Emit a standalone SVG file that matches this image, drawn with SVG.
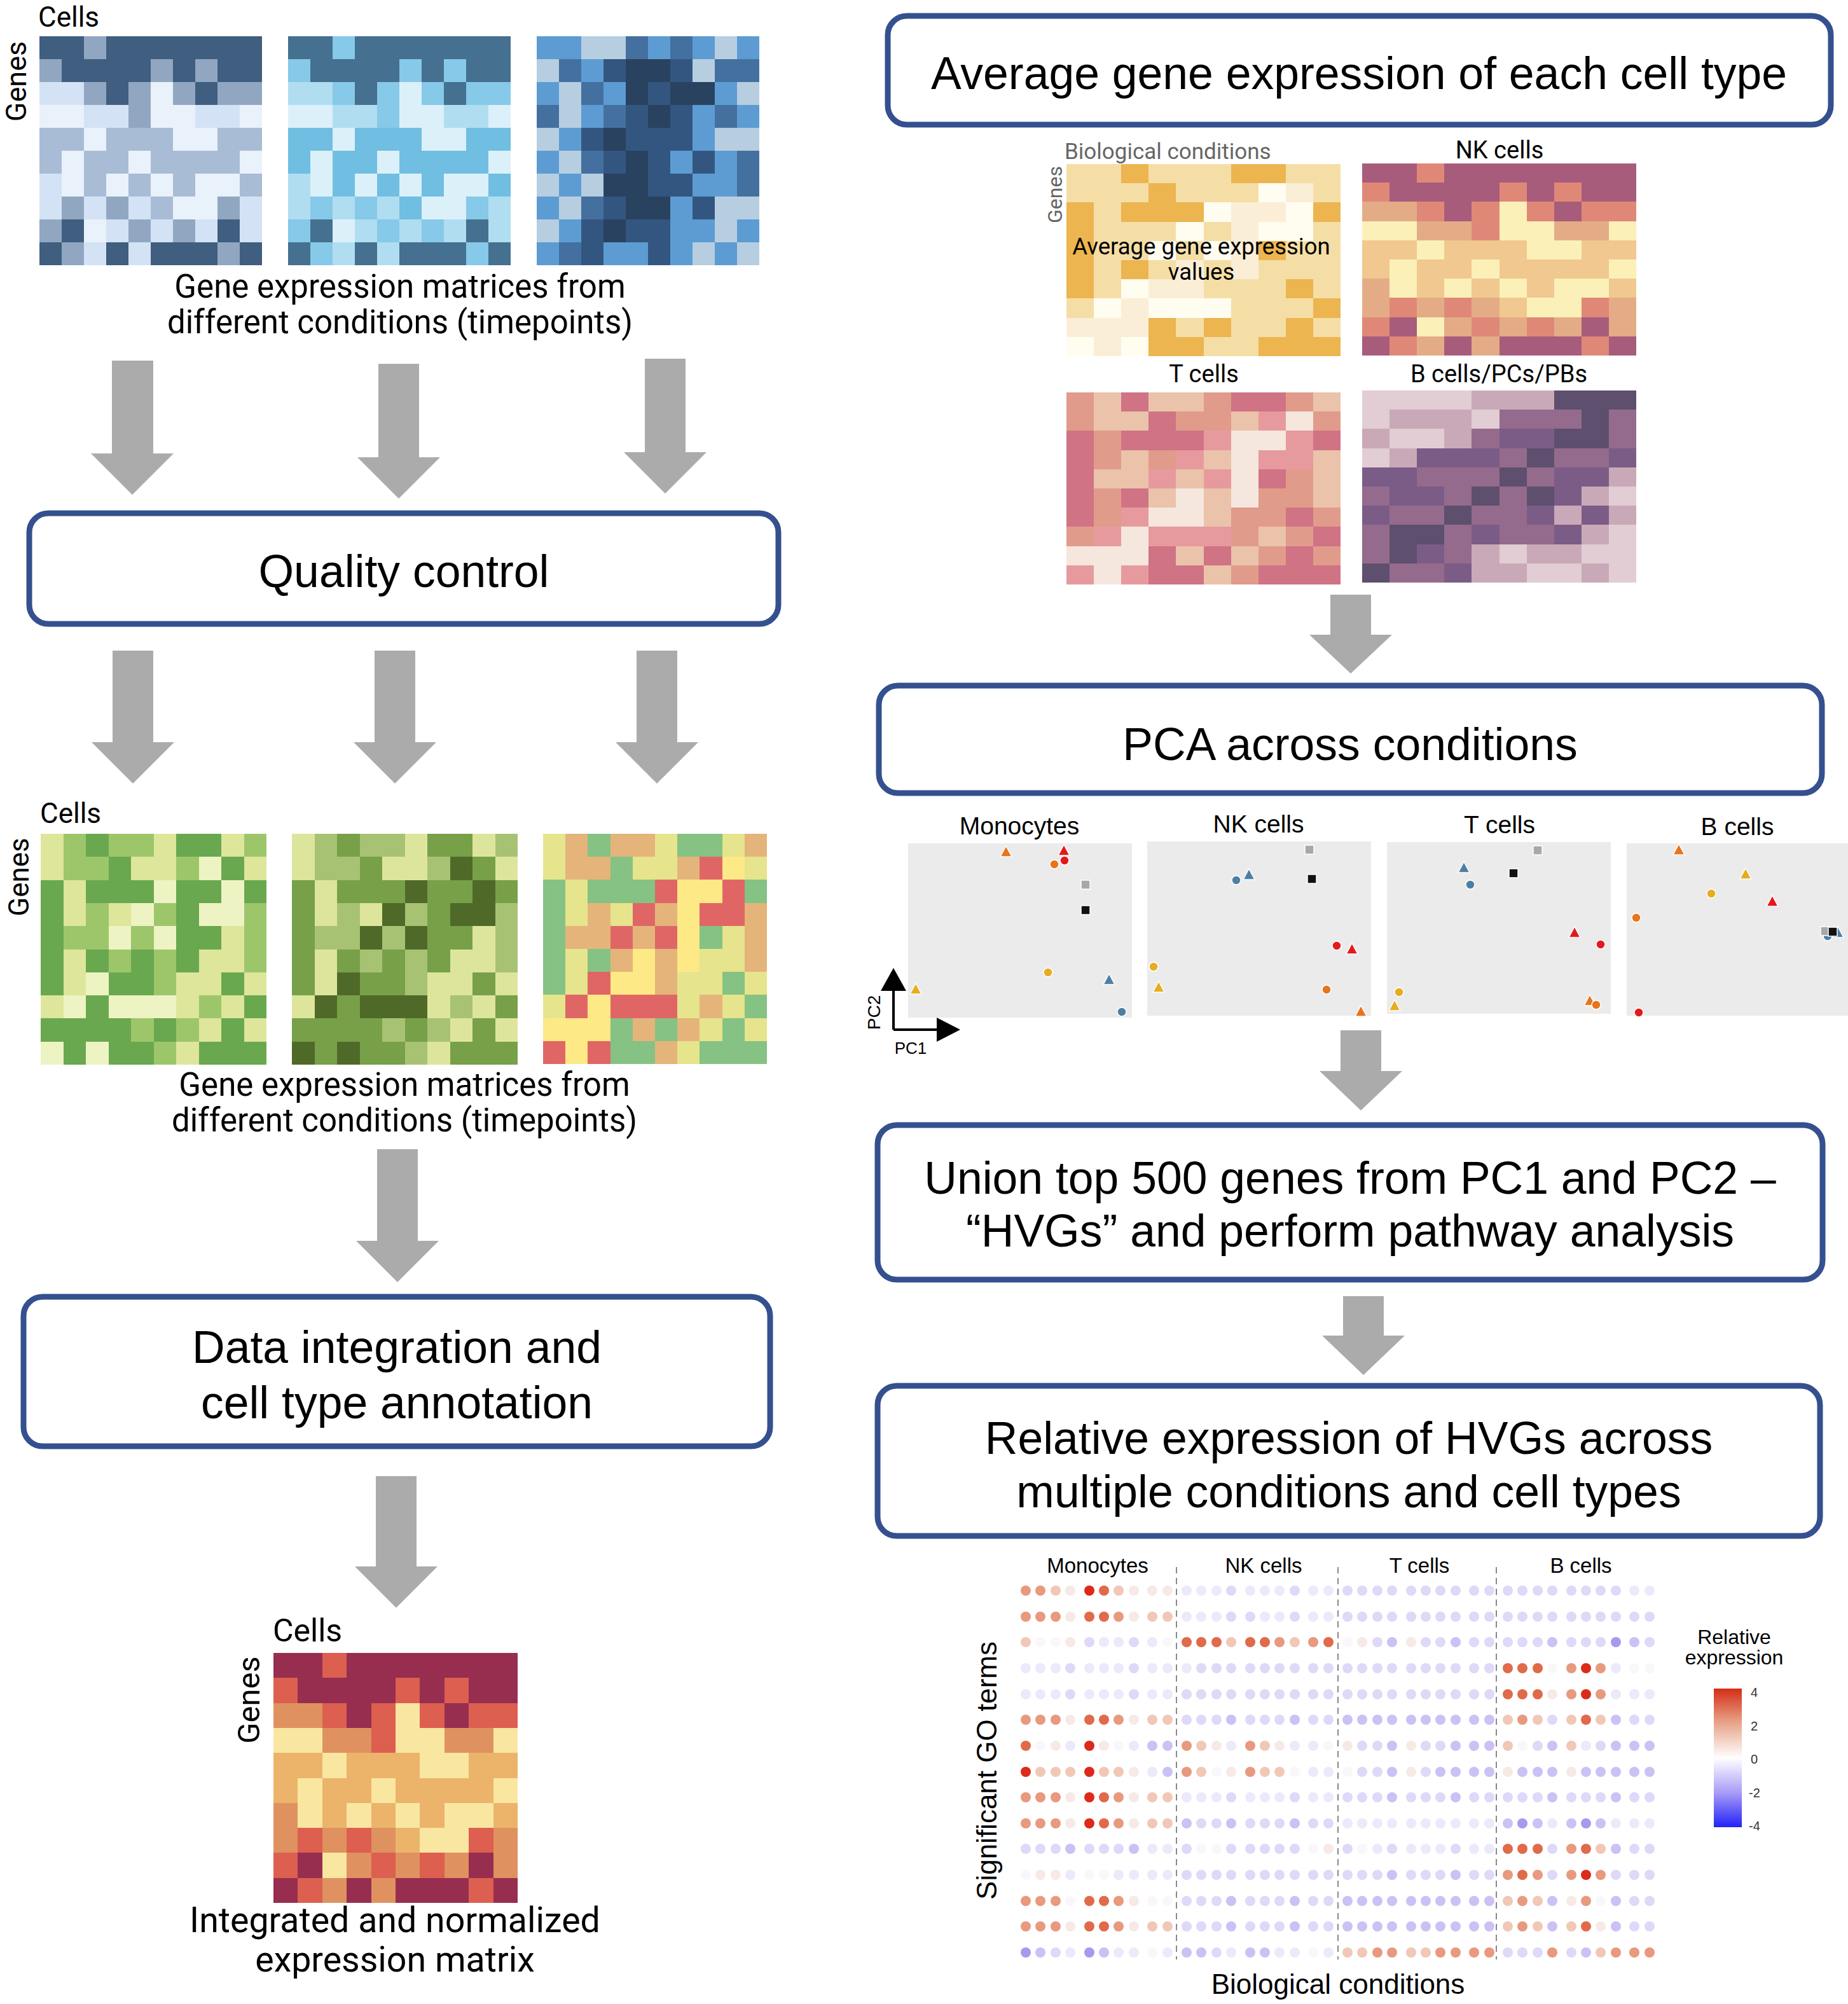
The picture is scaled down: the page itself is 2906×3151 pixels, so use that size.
<svg xmlns="http://www.w3.org/2000/svg" width="2906" height="3151" viewBox="0 0 2906 3151">
<style>
.t{font-family:"Liberation Sans",Arial,sans-serif;fill:#000}
.r{font-family:Roboto,"Liberation Sans",sans-serif;fill:#000}
.m{text-anchor:middle}
.box{fill:#fff;stroke:#34508e;stroke-width:9}
.bt{font-size:71.5px}
.arr{fill:#ababab}
.pn{fill:#ebebeb}
.hm{shape-rendering:crispEdges}
.dash{stroke:#8a8a8a;stroke-width:2;stroke-dasharray:10 7;fill:none}
</style>
<defs>
<path id="P2" d="M2 0h1v1h-1zM0 1h1v1h-1zM5 1h1v1h-1zM7 1h1v1h-1zM2 2h1v1h-1zM4 2h1v1h-1zM6 2h1v1h-1zM8 2h2v1h-2zM4 3h1v1h-1zM1 7h1v1h-1zM3 7h1v1h-1zM8 7h1v1h-1zM0 8h1v1h-1zM4 8h1v1h-1zM6 8h1v1h-1zM1 9h1v1h-1zM8 9h1v1h-1z"/>
<path id="P3" d="M0 2h2v1h-2zM2 3h2v1h-2zM7 3h2v1h-2zM0 6h1v1h-1zM0 7h1v1h-1zM2 7h1v1h-1zM4 7h1v1h-1zM9 7h1v1h-1zM3 8h1v1h-1zM5 8h1v1h-1zM7 8h1v1h-1zM9 8h1v1h-1zM2 9h1v1h-1zM4 9h1v1h-1z"/>
<path id="P4" d="M0 4h2v1h-2zM3 4h3v1h-3zM8 4h2v1h-2zM0 5h1v1h-1zM2 5h2v1h-2zM5 5h4v1h-4zM2 6h1v1h-1zM4 6h1v1h-1zM6 6h1v1h-1zM9 6h1v1h-1zM5 7h1v1h-1z"/>
<path id="P5" d="M5 2h1v1h-1zM0 3h2v1h-2zM5 3h2v1h-2zM9 3h1v1h-1zM2 4h1v1h-1zM6 4h2v1h-2zM1 5h1v1h-1zM4 5h1v1h-1zM9 5h1v1h-1zM1 6h1v1h-1zM3 6h1v1h-1zM5 6h1v1h-1zM7 6h2v1h-2zM6 7h2v1h-2zM2 8h1v1h-1z"/>
<path id="QB" d="M1 0h1v1h-1zM3 0h2v1h-2zM9 0h1v1h-1zM1 1h2v1h-2zM6 1h1v1h-1zM2 3h1v1h-1zM5 3h1v1h-1zM9 3h1v1h-1zM1 4h2v1h-2zM4 4h1v1h-1zM9 4h1v1h-1zM3 5h1v1h-1zM5 5h1v1h-1zM9 5h1v1h-1zM5 6h1v1h-1zM7 7h1v1h-1zM4 8h1v1h-1zM6 8h1v1h-1zM5 9h1v1h-1z"/>
<path id="QC" d="M0 0h1v1h-1zM5 0h1v1h-1zM8 0h1v1h-1zM0 1h1v1h-1zM4 1h2v1h-2zM9 1h1v1h-1zM1 2h1v1h-1zM1 3h1v1h-1zM3 3h1v1h-1zM8 4h1v1h-1zM1 5h1v1h-1zM7 5h2v1h-2zM1 6h1v1h-1zM6 6h2v1h-2zM9 6h1v1h-1zM0 7h1v1h-1zM6 7h1v1h-1zM8 7h1v1h-1zM7 8h1v1h-1zM9 8h1v1h-1zM6 9h1v1h-1z"/>
<path id="QD" d="M7 1h1v1h-1zM5 2h1v1h-1zM8 2h1v1h-1zM4 3h1v1h-1zM7 3h2v1h-2zM3 4h1v1h-1zM5 4h1v1h-1zM2 6h1v1h-1zM1 7h1v1h-1zM3 7h3v1h-3zM0 9h1v1h-1zM2 9h1v1h-1z"/>
<path id="QE" d="M8 1h1v1h-1zM6 2h2v1h-2zM6 3h1v1h-1zM6 4h1v1h-1zM4 5h1v1h-1zM6 5h1v1h-1zM3 6h2v1h-2zM2 7h1v1h-1zM0 8h3v1h-3zM1 9h1v1h-1z"/>
<path id="BD" d="M7 0h3v1h-3zM8 1h1v1h-1zM7 2h2v1h-2zM6 3h1v1h-1zM5 4h1v1h-1zM4 5h1v1h-1zM6 5h1v1h-1zM3 6h1v1h-1zM1 7h2v1h-2zM1 8h1v1h-1zM0 9h1v1h-1z"/>
<path id="BP" d="M5 2h2v1h-2zM2 3h3v1h-3zM9 3h1v1h-1zM0 4h2v1h-2zM7 4h2v1h-2zM1 5h2v1h-2zM7 5h1v1h-1zM0 6h1v1h-1zM6 6h1v1h-1zM8 6h1v1h-1zM4 7h1v1h-1zM7 7h1v1h-1zM2 8h1v1h-1zM3 9h1v1h-1z"/>
<path id="BL" d="M4 0h3v1h-3zM1 1h3v1h-3zM0 2h1v1h-1zM3 2h1v1h-1zM1 3h1v1h-1zM9 4h1v1h-1zM8 5h1v1h-1zM7 6h1v1h-1zM9 6h1v1h-1zM8 7h1v1h-1zM4 8h1v1h-1zM6 8h2v1h-2zM4 9h2v1h-2zM8 9h1v1h-1z"/>
<path id="BV" d="M0 0h4v1h-4zM0 1h1v1h-1zM4 1h1v1h-1zM1 2h2v1h-2zM0 3h1v1h-1zM9 5h1v1h-1zM9 7h1v1h-1zM5 8h1v1h-1zM8 8h2v1h-2zM6 9h2v1h-2zM9 9h1v1h-1z"/>
<path id="UM" d="M0 0h2v1h-2zM5 0h1v1h-1zM7 0h1v1h-1zM9 0h1v1h-1zM2 1h1v1h-1zM0 2h1v1h-1zM3 2h1v1h-1zM8 2h1v1h-1zM2 3h1v1h-1zM7 3h1v1h-1zM9 3h1v1h-1zM1 4h1v1h-1zM7 4h1v1h-1zM0 5h1v1h-1zM6 5h1v1h-1zM8 5h1v1h-1zM1 6h1v1h-1zM7 6h2v1h-2zM0 7h1v1h-1zM6 7h1v1h-1zM1 8h1v1h-1zM6 8h2v1h-2zM9 8h1v1h-1zM0 9h1v1h-1zM3 9h2v1h-2zM6 9h1v1h-1zM8 9h1v1h-1z"/>
<path id="UL" d="M2 0h2v1h-2zM8 0h1v1h-1zM0 1h1v1h-1zM7 1h1v1h-1zM1 2h1v1h-1zM9 2h1v1h-1zM1 3h1v1h-1zM0 4h1v1h-1zM8 4h2v1h-2zM1 5h1v1h-1zM0 6h1v1h-1zM2 6h1v1h-1zM1 7h1v1h-1zM8 7h2v1h-2zM0 8h1v1h-1zM8 8h1v1h-1zM7 9h1v1h-1zM9 9h1v1h-1z"/>
<path id="U2" d="M4 0h1v1h-1zM6 0h1v1h-1zM1 1h1v1h-1zM8 1h2v1h-2zM2 2h1v1h-1zM0 3h1v1h-1zM3 3h1v1h-1zM8 3h1v1h-1zM2 5h1v1h-1zM9 5h1v1h-1zM9 6h1v1h-1zM2 7h1v1h-1zM1 9h1v1h-1z"/>
<path id="UD" d="M4 1h2v1h-2zM4 2h1v1h-1zM6 2h2v1h-2zM5 3h1v1h-1zM3 4h1v1h-1zM4 5h1v1h-1zM3 6h2v1h-2zM4 7h2v1h-2zM3 8h1v1h-1z"/>
<circle id="pc" r="7" stroke="#fff" stroke-width="1.5"/>
<path id="pt" d="M0 -10L9 7H-9Z" stroke="#fff" stroke-width="1.5"/>
<rect id="ps" x="-7" y="-7" width="14" height="14" stroke="#fff" stroke-width="1.5"/>
<circle id="dR" r="8" fill="#dc2a1b"/>
<circle id="dr" r="8" fill="#e06a4a"/>
<circle id="do" r="8" fill="#e8997e"/>
<circle id="dp" r="8" fill="#f1c7b6"/>
<circle id="dw" r="8" fill="#f7e9e6"/>
<circle id="dz" r="8" fill="#f9f7fa"/>
<circle id="dl" r="8" fill="#ece9fb"/>
<circle id="dv" r="8" fill="#dfd8f8"/>
<circle id="dV" r="8" fill="#cbc1f5"/>
<circle id="dB" r="8" fill="#a899ef"/>
<linearGradient id="cbar" x1="0" y1="0" x2="0" y2="1">
<stop offset="0" stop-color="#d42e16"/>
<stop offset="0.25" stop-color="#e8a58b"/>
<stop offset="0.5" stop-color="#ffffff"/>
<stop offset="0.75" stop-color="#a99cf7"/>
<stop offset="1" stop-color="#2222f6"/>
</linearGradient>
</defs>
<rect width="2906" height="3151" fill="#fff"/>

<!-- Top-left input matrices -->
<g id="input-matrices">
<text class="r" x="60" y="42" font-size="44">Cells</text>
<text class="r m" transform="translate(41 128) rotate(-90)" font-size="45">Genes</text>
<g class="hm" transform="translate(62 57) scale(35 36)"><rect width="10" height="10" fill="#3f5e80"/><use href="#P2" fill="#91a7c1"/><use href="#P3" fill="#d3e3f5"/><use href="#P4" fill="#a9bcd6"/><use href="#P5" fill="#e9f1fb"/></g>
<g class="hm" transform="translate(453 57) scale(35 36)"><rect width="10" height="10" fill="#45708f"/><use href="#P2" fill="#86c9e8"/><use href="#P3" fill="#b1ddf1"/><use href="#P4" fill="#70bee1"/><use href="#P5" fill="#dcf0fa"/></g>
<g class="hm" transform="translate(844 57) scale(35 36)"><rect width="10" height="10" fill="#335680"/><use href="#UM" fill="#5c9cd3"/><use href="#UL" fill="#b7cee0"/><use href="#U2" fill="#4470a0"/><use href="#UD" fill="#29425f"/></g>
<text class="r m" x="629" y="468" font-size="51">Gene expression matrices from</text>
<text class="r m" x="629" y="524" font-size="51">different conditions (timepoints)</text>
</g>

<g id="qc">
<rect class="box" x="46" y="807" width="1178" height="174" rx="30"/>
<text class="t m bt" x="635" y="923">Quality control</text>
</g>

<g id="qc-matrices">
<text class="r" x="63" y="1294" font-size="44">Cells</text>
<text class="r m" transform="translate(45 1379) rotate(-90)" font-size="44">Genes</text>
<g class="hm" transform="translate(64 1311) scale(35.5 36.3)"><rect width="10" height="10" fill="#6aa84f"/><use href="#QB" fill="#9dc66b"/><use href="#QC" fill="#dde69b"/><use href="#QD" fill="#eef3c3"/></g>
<g class="hm" transform="translate(459 1311) scale(35.5 36.3)"><rect width="10" height="10" fill="#77a049"/><use href="#QB" fill="#a8c273"/><use href="#QC" fill="#dde59c"/><use href="#QD" fill="#4f6a28"/></g>
<g class="hm" transform="translate(854 1311) scale(35.2 36.2)"><rect width="10" height="10" fill="#86c283"/><use href="#QB" fill="#e5b47a"/><use href="#QC" fill="#e6e48c"/><use href="#QD" fill="#e06666"/><use href="#QE" fill="#fde985"/></g>
<text class="r m" x="636" y="1723" font-size="51">Gene expression matrices from</text>
<text class="r m" x="636" y="1779" font-size="51">different conditions (timepoints)</text>
</g>

<g id="integration">
<rect class="box" x="37" y="2039" width="1174" height="235" rx="30"/>
<text class="t m bt" x="624" y="2143">Data integration and</text>
<text class="t m bt" x="624" y="2230">cell type annotation</text>
</g>

<g id="integrated-matrix">
<text class="r" x="429" y="2581" font-size="50">Cells</text>
<text class="r m" transform="translate(408 2673) rotate(-90)" font-size="49">Genes</text>
<g class="hm" transform="translate(430 2599) scale(38.4 39.3)"><rect width="10" height="10" fill="#972e50"/><use href="#P2" fill="#dc5f50"/><use href="#P3" fill="#df925f"/><use href="#P4" fill="#ebb46a"/><use href="#P5" fill="#f9e6a0"/></g>
<text class="r m" x="621" y="3038" font-size="55.5">Integrated and normalized</text>
<text class="r m" x="621" y="3100" font-size="55.5">expression matrix</text>
</g>

<g id="avg-box">
<rect class="box" x="1396" y="25" width="1483" height="171" rx="30"/>
<text class="t m bt" x="2137" y="140">Average gene expression of each cell type</text>
</g>

<g id="avg-heatmaps">
<text class="r" x="1674" y="250" font-size="35" style="fill:#666">Biological conditions</text>
<text class="r m" transform="translate(1670 306) rotate(-90)" font-size="32" style="fill:#666">Genes</text>
<g class="hm" transform="translate(1677 258) scale(43.1 30.2)"><rect width="10" height="10" fill="#ecb54f"/><use href="#QB" fill="#f5dea6"/><use href="#QC" fill="#f5dea6"/><use href="#QD" fill="#fffcf0"/><use href="#QE" fill="#fbeed7"/></g>
<text class="r m" x="1889" y="400" font-size="36.5">Average gene expression</text>
<text class="r m" x="1889" y="440" font-size="36.5">values</text>
<text class="r m" x="2358" y="249" font-size="38">NK cells</text>
<g class="hm" transform="translate(2142 257) scale(43.1 30.2)"><rect width="10" height="10" fill="#a85c7c"/><use href="#P2" fill="#e08878"/><use href="#P3" fill="#e3ac86"/><use href="#P4" fill="#f0c890"/><use href="#P5" fill="#fbf0b8"/></g>
<text class="r m" x="1893" y="601" font-size="38">T cells</text>
<g class="hm" transform="translate(1677 617) scale(43.1 30.2)"><rect width="10" height="10" fill="#d07384"/><use href="#QB" fill="#eac3aa"/><use href="#QC" fill="#e19b8b"/><use href="#QD" fill="#e79a9e"/><use href="#QE" fill="#f5e7dd"/></g>
<text class="r m" x="2357" y="601" font-size="38">B cells/PCs/PBs</text>
<g class="hm" transform="translate(2142 614) scale(43.1 30.2)"><rect width="10" height="10" fill="#946b8c"/><use href="#BD" fill="#5e4f6e"/><use href="#BP" fill="#7b5c87"/><use href="#BL" fill="#c9a9b7"/><use href="#BV" fill="#e1cdd3"/></g>
</g>

<g id="pca-box">
<rect class="box" x="1382" y="1078" width="1483" height="169" rx="30"/>
<text class="t m bt" x="2123" y="1195">PCA across conditions</text>
</g>

<g id="pca-plots">
<rect class="pn" x="1428" y="1326" width="352" height="274"/>
<rect class="pn" x="1804" y="1323" width="352" height="274"/>
<rect class="pn" x="2181" y="1324" width="352" height="270"/>
<rect class="pn" x="2558" y="1326" width="348" height="271"/>
<text class="t m" x="1603" y="1312" font-size="39">Monocytes</text>
<text class="t m" x="1979" y="1309" font-size="39">NK cells</text>
<text class="t m" x="2358" y="1310" font-size="39">T cells</text>
<text class="t m" x="2732" y="1313" font-size="39">B cells</text>
<use href="#pt" x="1582" y="1340" fill="#e8741c"/>
<use href="#pt" x="1673" y="1338" fill="#e31a1c"/>
<use href="#pc" x="1674" y="1353" fill="#e31a1c"/>
<use href="#pc" x="1658" y="1359" fill="#e8741c"/>
<use href="#ps" x="1707" y="1391" fill="#a8a8a8"/>
<use href="#ps" x="1707" y="1431" fill="#111"/>
<use href="#pc" x="1648" y="1529" fill="#e5ad1f"/>
<use href="#pt" x="1744" y="1541" fill="#4d7fa3"/>
<use href="#pt" x="1440" y="1556" fill="#e5ad1f"/>
<use href="#pc" x="1764" y="1591" fill="#4d7fa3"/>
<use href="#ps" x="2059" y="1336" fill="#a8a8a8"/>
<use href="#pc" x="1944" y="1384" fill="#4d7fa3"/>
<use href="#pt" x="1964" y="1376" fill="#4d7fa3"/>
<use href="#ps" x="2063" y="1382" fill="#111"/>
<use href="#pc" x="2102" y="1487" fill="#e31a1c"/>
<use href="#pt" x="2126" y="1493" fill="#e31a1c"/>
<use href="#pc" x="1814" y="1520" fill="#e5ad1f"/>
<use href="#pt" x="1822" y="1553" fill="#e5ad1f"/>
<use href="#pc" x="2086" y="1556" fill="#e8741c"/>
<use href="#pt" x="2140" y="1591" fill="#e8741c"/>
<use href="#ps" x="2418" y="1337" fill="#a8a8a8"/>
<use href="#pt" x="2302" y="1365" fill="#4d7fa3"/>
<use href="#ps" x="2380" y="1373" fill="#111"/>
<use href="#pc" x="2312" y="1391" fill="#4d7fa3"/>
<use href="#pt" x="2476" y="1467" fill="#e31a1c"/>
<use href="#pc" x="2517" y="1485" fill="#e31a1c"/>
<use href="#pc" x="2200" y="1560" fill="#e5ad1f"/>
<use href="#pt" x="2193" y="1582" fill="#e5ad1f"/>
<use href="#pt" x="2500" y="1574" fill="#e8741c"/>
<use href="#pc" x="2510" y="1580" fill="#e8741c"/>
<use href="#pt" x="2640" y="1337" fill="#e8741c"/>
<use href="#pt" x="2745" y="1375" fill="#e5ad1f"/>
<use href="#pc" x="2691" y="1405" fill="#e5ad1f"/>
<use href="#pt" x="2787" y="1418" fill="#e31a1c"/>
<use href="#pc" x="2573" y="1443" fill="#e8741c"/>
<use href="#pc" x="2874" y="1472" fill="#4d7fa3"/>
<use href="#ps" x="2870" y="1464" fill="#a8a8a8"/>
<use href="#pt" x="2890" y="1467" fill="#4d7fa3"/>
<use href="#ps" x="2882" y="1465" fill="#111"/>
<use href="#pc" x="2577" y="1592" fill="#e31a1c"/>
<path d="M1405 1619V1555M1405 1619H1476" stroke="#000" stroke-width="4" fill="none"/>
<path d="M1385 1558L1405 1522L1425 1558Z M1473 1600L1510 1619L1473 1638Z" fill="#000"/>
<text class="t m" transform="translate(1384 1592) rotate(-90)" font-size="28">PC2</text>
<text class="t m" x="1432" y="1657" font-size="26">PC1</text>
</g>

<g id="union-box">
<rect class="box" x="1380" y="1769" width="1486" height="243" rx="30"/>
<text class="t m bt" x="2123" y="1877">Union top 500 genes from PC1 and PC2 –</text>
<text class="t m bt" x="2123" y="1960">“HVGs” and perform pathway analysis</text>
</g>

<g id="relative-box">
<rect class="box" x="1380" y="2179" width="1482" height="236" rx="30"/>
<text class="t m bt" x="2121" y="2286">Relative expression of HVGs across</text>
<text class="t m bt" x="2121" y="2370">multiple conditions and cell types</text>
</g>

<g id="dotplot">
<text class="t m" x="1726" y="2473" font-size="33">Monocytes</text>
<text class="t m" x="1987" y="2473" font-size="33">NK cells</text>
<text class="t m" x="2232" y="2473" font-size="33">T cells</text>
<text class="t m" x="2486" y="2473" font-size="33">B cells</text>
<path class="dash" d="M1850 2464V3081M2104 2464V3081M2353 2464V3081"/>
<text class="t m" transform="translate(1567 2784) rotate(-90)" font-size="44">Significant GO terms</text>
<text class="t m" x="2104" y="3135" font-size="44">Biological conditions</text>
<g transform="translate(0 2501)"><use href="#do" x="1613"/><use href="#do" x="1636"/><use href="#dp" x="1660"/><use href="#dw" x="1683"/><use href="#dR" x="1713"/><use href="#dr" x="1736"/><use href="#dp" x="1759"/><use href="#dw" x="1783"/><use href="#dw" x="1812"/><use href="#dw" x="1836"/><use href="#dl" x="1866"/><use href="#dl" x="1889"/><use href="#dl" x="1913"/><use href="#dv" x="1936"/><use href="#dl" x="1966"/><use href="#dl" x="1989"/><use href="#dl" x="2012"/><use href="#dv" x="2036"/><use href="#dl" x="2065"/><use href="#dl" x="2089"/><use href="#dv" x="2119"/><use href="#dv" x="2142"/><use href="#dv" x="2166"/><use href="#dv" x="2189"/><use href="#dv" x="2219"/><use href="#dv" x="2242"/><use href="#dv" x="2265"/><use href="#dv" x="2289"/><use href="#dv" x="2318"/><use href="#dv" x="2342"/><use href="#dv" x="2371"/><use href="#dv" x="2394"/><use href="#dv" x="2418"/><use href="#dv" x="2441"/><use href="#dv" x="2471"/><use href="#dv" x="2494"/><use href="#dv" x="2517"/><use href="#dv" x="2541"/><use href="#dl" x="2570"/><use href="#dl" x="2594"/></g>
<g transform="translate(0 2542)"><use href="#do" x="1613"/><use href="#do" x="1636"/><use href="#do" x="1660"/><use href="#dw" x="1683"/><use href="#dr" x="1713"/><use href="#dr" x="1736"/><use href="#do" x="1759"/><use href="#dw" x="1783"/><use href="#dp" x="1812"/><use href="#dp" x="1836"/><use href="#dl" x="1866"/><use href="#dl" x="1889"/><use href="#dl" x="1913"/><use href="#dv" x="1936"/><use href="#dv" x="1966"/><use href="#dl" x="1989"/><use href="#dl" x="2012"/><use href="#dv" x="2036"/><use href="#dl" x="2065"/><use href="#dl" x="2089"/><use href="#dv" x="2119"/><use href="#dv" x="2142"/><use href="#dv" x="2166"/><use href="#dv" x="2189"/><use href="#dv" x="2219"/><use href="#dv" x="2242"/><use href="#dv" x="2265"/><use href="#dv" x="2289"/><use href="#dv" x="2318"/><use href="#dv" x="2342"/><use href="#dv" x="2371"/><use href="#dv" x="2394"/><use href="#dv" x="2418"/><use href="#dv" x="2441"/><use href="#dv" x="2471"/><use href="#dv" x="2494"/><use href="#dv" x="2517"/><use href="#dv" x="2541"/><use href="#dv" x="2570"/><use href="#dv" x="2594"/></g>
<g transform="translate(0 2582)"><use href="#dp" x="1613"/><use href="#dz" x="1636"/><use href="#dz" x="1660"/><use href="#dw" x="1683"/><use href="#dv" x="1713"/><use href="#dl" x="1736"/><use href="#dl" x="1759"/><use href="#dv" x="1783"/><use href="#dl" x="1812"/><use href="#dz" x="1836"/><use href="#dr" x="1866"/><use href="#dr" x="1889"/><use href="#dr" x="1913"/><use href="#dp" x="1936"/><use href="#dr" x="1966"/><use href="#dr" x="1989"/><use href="#do" x="2012"/><use href="#dp" x="2036"/><use href="#do" x="2065"/><use href="#dr" x="2089"/><use href="#dz" x="2119"/><use href="#dw" x="2142"/><use href="#dv" x="2166"/><use href="#dV" x="2189"/><use href="#dw" x="2219"/><use href="#dv" x="2242"/><use href="#dv" x="2265"/><use href="#dV" x="2289"/><use href="#dv" x="2318"/><use href="#dv" x="2342"/><use href="#dv" x="2371"/><use href="#dv" x="2394"/><use href="#dv" x="2418"/><use href="#dV" x="2441"/><use href="#dv" x="2471"/><use href="#dv" x="2494"/><use href="#dv" x="2517"/><use href="#dB" x="2541"/><use href="#dV" x="2570"/><use href="#dv" x="2594"/></g>
<g transform="translate(0 2623)"><use href="#dl" x="1613"/><use href="#dl" x="1636"/><use href="#dl" x="1660"/><use href="#dv" x="1683"/><use href="#dl" x="1713"/><use href="#dl" x="1736"/><use href="#dl" x="1759"/><use href="#dv" x="1783"/><use href="#dl" x="1812"/><use href="#dl" x="1836"/><use href="#dl" x="1866"/><use href="#dv" x="1889"/><use href="#dv" x="1913"/><use href="#dv" x="1936"/><use href="#dv" x="1966"/><use href="#dv" x="1989"/><use href="#dv" x="2012"/><use href="#dv" x="2036"/><use href="#dv" x="2065"/><use href="#dv" x="2089"/><use href="#dv" x="2119"/><use href="#dv" x="2142"/><use href="#dv" x="2166"/><use href="#dv" x="2189"/><use href="#dv" x="2219"/><use href="#dv" x="2242"/><use href="#dv" x="2265"/><use href="#dv" x="2289"/><use href="#dv" x="2318"/><use href="#dv" x="2342"/><use href="#dr" x="2371"/><use href="#dr" x="2394"/><use href="#dr" x="2418"/><use href="#dz" x="2441"/><use href="#do" x="2471"/><use href="#dR" x="2494"/><use href="#do" x="2517"/><use href="#dl" x="2541"/><use href="#dz" x="2570"/><use href="#dz" x="2594"/></g>
<g transform="translate(0 2664)"><use href="#dl" x="1613"/><use href="#dl" x="1636"/><use href="#dl" x="1660"/><use href="#dv" x="1683"/><use href="#dl" x="1713"/><use href="#dl" x="1736"/><use href="#dl" x="1759"/><use href="#dv" x="1783"/><use href="#dl" x="1812"/><use href="#dl" x="1836"/><use href="#dv" x="1866"/><use href="#dv" x="1889"/><use href="#dv" x="1913"/><use href="#dv" x="1936"/><use href="#dv" x="1966"/><use href="#dv" x="1989"/><use href="#dv" x="2012"/><use href="#dv" x="2036"/><use href="#dv" x="2065"/><use href="#dv" x="2089"/><use href="#dv" x="2119"/><use href="#dv" x="2142"/><use href="#dv" x="2166"/><use href="#dv" x="2189"/><use href="#dv" x="2219"/><use href="#dv" x="2242"/><use href="#dv" x="2265"/><use href="#dv" x="2289"/><use href="#dv" x="2318"/><use href="#dv" x="2342"/><use href="#dr" x="2371"/><use href="#dr" x="2394"/><use href="#dr" x="2418"/><use href="#dw" x="2441"/><use href="#do" x="2471"/><use href="#dR" x="2494"/><use href="#do" x="2517"/><use href="#dl" x="2541"/><use href="#dl" x="2570"/><use href="#dl" x="2594"/></g>
<g transform="translate(0 2704)"><use href="#do" x="1613"/><use href="#do" x="1636"/><use href="#do" x="1660"/><use href="#dw" x="1683"/><use href="#dr" x="1713"/><use href="#dr" x="1736"/><use href="#do" x="1759"/><use href="#dw" x="1783"/><use href="#dp" x="1812"/><use href="#dp" x="1836"/><use href="#dv" x="1866"/><use href="#dv" x="1889"/><use href="#dv" x="1913"/><use href="#dV" x="1936"/><use href="#dv" x="1966"/><use href="#dv" x="1989"/><use href="#dv" x="2012"/><use href="#dV" x="2036"/><use href="#dv" x="2065"/><use href="#dv" x="2089"/><use href="#dV" x="2119"/><use href="#dV" x="2142"/><use href="#dV" x="2166"/><use href="#dV" x="2189"/><use href="#dV" x="2219"/><use href="#dV" x="2242"/><use href="#dV" x="2265"/><use href="#dV" x="2289"/><use href="#dV" x="2318"/><use href="#dV" x="2342"/><use href="#dp" x="2371"/><use href="#do" x="2394"/><use href="#dp" x="2418"/><use href="#dv" x="2441"/><use href="#dp" x="2471"/><use href="#dr" x="2494"/><use href="#dp" x="2517"/><use href="#dV" x="2541"/><use href="#dv" x="2570"/><use href="#dv" x="2594"/></g>
<g transform="translate(0 2745)"><use href="#dr" x="1613"/><use href="#dz" x="1636"/><use href="#dw" x="1660"/><use href="#dl" x="1683"/><use href="#dR" x="1713"/><use href="#dw" x="1736"/><use href="#dz" x="1759"/><use href="#dl" x="1783"/><use href="#dV" x="1812"/><use href="#dV" x="1836"/><use href="#do" x="1866"/><use href="#dp" x="1889"/><use href="#dw" x="1913"/><use href="#dl" x="1936"/><use href="#do" x="1966"/><use href="#dp" x="1989"/><use href="#dw" x="2012"/><use href="#dl" x="2036"/><use href="#dl" x="2065"/><use href="#dz" x="2089"/><use href="#dw" x="2119"/><use href="#dv" x="2142"/><use href="#dv" x="2166"/><use href="#dV" x="2189"/><use href="#dw" x="2219"/><use href="#dv" x="2242"/><use href="#dv" x="2265"/><use href="#dV" x="2289"/><use href="#dV" x="2318"/><use href="#dV" x="2342"/><use href="#dp" x="2371"/><use href="#dz" x="2394"/><use href="#dv" x="2418"/><use href="#dV" x="2441"/><use href="#dp" x="2471"/><use href="#dl" x="2494"/><use href="#dv" x="2517"/><use href="#dV" x="2541"/><use href="#dV" x="2570"/><use href="#dV" x="2594"/></g>
<g transform="translate(0 2786)"><use href="#dR" x="1613"/><use href="#dp" x="1636"/><use href="#dp" x="1660"/><use href="#dp" x="1683"/><use href="#dR" x="1713"/><use href="#dp" x="1736"/><use href="#dp" x="1759"/><use href="#dw" x="1783"/><use href="#dl" x="1812"/><use href="#dV" x="1836"/><use href="#do" x="1866"/><use href="#dp" x="1889"/><use href="#dz" x="1913"/><use href="#dw" x="1936"/><use href="#do" x="1966"/><use href="#dp" x="1989"/><use href="#dp" x="2012"/><use href="#dz" x="2036"/><use href="#dl" x="2065"/><use href="#dl" x="2089"/><use href="#dz" x="2119"/><use href="#dv" x="2142"/><use href="#dv" x="2166"/><use href="#dV" x="2189"/><use href="#dw" x="2219"/><use href="#dv" x="2242"/><use href="#dV" x="2265"/><use href="#dV" x="2289"/><use href="#dV" x="2318"/><use href="#dV" x="2342"/><use href="#dw" x="2371"/><use href="#dV" x="2394"/><use href="#dV" x="2418"/><use href="#dV" x="2441"/><use href="#dw" x="2471"/><use href="#dV" x="2494"/><use href="#dV" x="2517"/><use href="#dV" x="2541"/><use href="#dV" x="2570"/><use href="#dV" x="2594"/></g>
<g transform="translate(0 2826)"><use href="#do" x="1613"/><use href="#do" x="1636"/><use href="#do" x="1660"/><use href="#dw" x="1683"/><use href="#dR" x="1713"/><use href="#dr" x="1736"/><use href="#do" x="1759"/><use href="#dw" x="1783"/><use href="#dp" x="1812"/><use href="#dp" x="1836"/><use href="#dl" x="1866"/><use href="#dl" x="1889"/><use href="#dl" x="1913"/><use href="#dv" x="1936"/><use href="#dl" x="1966"/><use href="#dl" x="1989"/><use href="#dl" x="2012"/><use href="#dv" x="2036"/><use href="#dl" x="2065"/><use href="#dl" x="2089"/><use href="#dv" x="2119"/><use href="#dv" x="2142"/><use href="#dv" x="2166"/><use href="#dV" x="2189"/><use href="#dv" x="2219"/><use href="#dv" x="2242"/><use href="#dv" x="2265"/><use href="#dV" x="2289"/><use href="#dv" x="2318"/><use href="#dv" x="2342"/><use href="#dv" x="2371"/><use href="#dv" x="2394"/><use href="#dv" x="2418"/><use href="#dV" x="2441"/><use href="#dv" x="2471"/><use href="#dv" x="2494"/><use href="#dv" x="2517"/><use href="#dV" x="2541"/><use href="#dv" x="2570"/><use href="#dv" x="2594"/></g>
<g transform="translate(0 2867)"><use href="#do" x="1613"/><use href="#do" x="1636"/><use href="#do" x="1660"/><use href="#dw" x="1683"/><use href="#dR" x="1713"/><use href="#dr" x="1736"/><use href="#do" x="1759"/><use href="#dw" x="1783"/><use href="#dp" x="1812"/><use href="#dp" x="1836"/><use href="#dV" x="1866"/><use href="#dv" x="1889"/><use href="#dv" x="1913"/><use href="#dV" x="1936"/><use href="#dv" x="1966"/><use href="#dv" x="1989"/><use href="#dv" x="2012"/><use href="#dV" x="2036"/><use href="#dv" x="2065"/><use href="#dv" x="2089"/><use href="#dl" x="2119"/><use href="#dl" x="2142"/><use href="#dl" x="2166"/><use href="#dl" x="2189"/><use href="#dl" x="2219"/><use href="#dl" x="2242"/><use href="#dl" x="2265"/><use href="#dl" x="2289"/><use href="#dl" x="2318"/><use href="#dl" x="2342"/><use href="#dV" x="2371"/><use href="#dB" x="2394"/><use href="#dV" x="2418"/><use href="#dl" x="2441"/><use href="#dV" x="2471"/><use href="#dB" x="2494"/><use href="#dV" x="2517"/><use href="#dl" x="2541"/><use href="#dl" x="2570"/><use href="#dl" x="2594"/></g>
<g transform="translate(0 2907)"><use href="#dv" x="1613"/><use href="#dv" x="1636"/><use href="#dv" x="1660"/><use href="#dV" x="1683"/><use href="#dv" x="1713"/><use href="#dv" x="1736"/><use href="#dv" x="1759"/><use href="#dV" x="1783"/><use href="#dl" x="1812"/><use href="#dl" x="1836"/><use href="#dv" x="1866"/><use href="#dz" x="1889"/><use href="#dz" x="1913"/><use href="#dv" x="1936"/><use href="#dv" x="1966"/><use href="#dv" x="1989"/><use href="#dv" x="2012"/><use href="#dv" x="2036"/><use href="#dz" x="2065"/><use href="#dw" x="2089"/><use href="#dv" x="2119"/><use href="#dz" x="2142"/><use href="#dl" x="2166"/><use href="#dv" x="2189"/><use href="#dl" x="2219"/><use href="#dl" x="2242"/><use href="#dl" x="2265"/><use href="#dv" x="2289"/><use href="#dl" x="2318"/><use href="#dl" x="2342"/><use href="#dr" x="2371"/><use href="#dr" x="2394"/><use href="#dr" x="2418"/><use href="#dv" x="2441"/><use href="#do" x="2471"/><use href="#dr" x="2494"/><use href="#dp" x="2517"/><use href="#dV" x="2541"/><use href="#dv" x="2570"/><use href="#dv" x="2594"/></g>
<g transform="translate(0 2948)"><use href="#dz" x="1613"/><use href="#dw" x="1636"/><use href="#dw" x="1660"/><use href="#dl" x="1683"/><use href="#dz" x="1713"/><use href="#dz" x="1736"/><use href="#dl" x="1759"/><use href="#dl" x="1783"/><use href="#dl" x="1812"/><use href="#dl" x="1836"/><use href="#dv" x="1866"/><use href="#dv" x="1889"/><use href="#dv" x="1913"/><use href="#dv" x="1936"/><use href="#dv" x="1966"/><use href="#dv" x="1989"/><use href="#dv" x="2012"/><use href="#dv" x="2036"/><use href="#dv" x="2065"/><use href="#dv" x="2089"/><use href="#dv" x="2119"/><use href="#dv" x="2142"/><use href="#dv" x="2166"/><use href="#dV" x="2189"/><use href="#dv" x="2219"/><use href="#dv" x="2242"/><use href="#dv" x="2265"/><use href="#dV" x="2289"/><use href="#dv" x="2318"/><use href="#dv" x="2342"/><use href="#do" x="2371"/><use href="#dr" x="2394"/><use href="#do" x="2418"/><use href="#dv" x="2441"/><use href="#do" x="2471"/><use href="#dR" x="2494"/><use href="#do" x="2517"/><use href="#dv" x="2541"/><use href="#dv" x="2570"/><use href="#dv" x="2594"/></g>
<g transform="translate(0 2989)"><use href="#do" x="1613"/><use href="#do" x="1636"/><use href="#do" x="1660"/><use href="#dz" x="1683"/><use href="#dr" x="1713"/><use href="#dr" x="1736"/><use href="#do" x="1759"/><use href="#dw" x="1783"/><use href="#dz" x="1812"/><use href="#dz" x="1836"/><use href="#dv" x="1866"/><use href="#dv" x="1889"/><use href="#dv" x="1913"/><use href="#dV" x="1936"/><use href="#dv" x="1966"/><use href="#dv" x="1989"/><use href="#dv" x="2012"/><use href="#dV" x="2036"/><use href="#dv" x="2065"/><use href="#dv" x="2089"/><use href="#dV" x="2119"/><use href="#dV" x="2142"/><use href="#dV" x="2166"/><use href="#dV" x="2189"/><use href="#dV" x="2219"/><use href="#dV" x="2242"/><use href="#dV" x="2265"/><use href="#dV" x="2289"/><use href="#dV" x="2318"/><use href="#dV" x="2342"/><use href="#dp" x="2371"/><use href="#do" x="2394"/><use href="#dp" x="2418"/><use href="#dV" x="2441"/><use href="#dw" x="2471"/><use href="#do" x="2494"/><use href="#dz" x="2517"/><use href="#dV" x="2541"/><use href="#dv" x="2570"/><use href="#dv" x="2594"/></g>
<g transform="translate(0 3029)"><use href="#do" x="1613"/><use href="#do" x="1636"/><use href="#do" x="1660"/><use href="#dw" x="1683"/><use href="#dr" x="1713"/><use href="#dr" x="1736"/><use href="#do" x="1759"/><use href="#dw" x="1783"/><use href="#dp" x="1812"/><use href="#dp" x="1836"/><use href="#dv" x="1866"/><use href="#dv" x="1889"/><use href="#dv" x="1913"/><use href="#dV" x="1936"/><use href="#dv" x="1966"/><use href="#dv" x="1989"/><use href="#dv" x="2012"/><use href="#dV" x="2036"/><use href="#dv" x="2065"/><use href="#dv" x="2089"/><use href="#dV" x="2119"/><use href="#dV" x="2142"/><use href="#dV" x="2166"/><use href="#dV" x="2189"/><use href="#dV" x="2219"/><use href="#dV" x="2242"/><use href="#dV" x="2265"/><use href="#dV" x="2289"/><use href="#dV" x="2318"/><use href="#dV" x="2342"/><use href="#dp" x="2371"/><use href="#do" x="2394"/><use href="#dp" x="2418"/><use href="#dV" x="2441"/><use href="#dp" x="2471"/><use href="#dr" x="2494"/><use href="#dw" x="2517"/><use href="#dV" x="2541"/><use href="#dv" x="2570"/><use href="#dv" x="2594"/></g>
<g transform="translate(0 3070)"><use href="#dB" x="1613"/><use href="#dV" x="1636"/><use href="#dv" x="1660"/><use href="#dl" x="1683"/><use href="#dB" x="1713"/><use href="#dV" x="1736"/><use href="#dl" x="1759"/><use href="#dl" x="1783"/><use href="#dz" x="1812"/><use href="#dl" x="1836"/><use href="#dV" x="1866"/><use href="#dV" x="1889"/><use href="#dv" x="1913"/><use href="#dl" x="1936"/><use href="#dV" x="1966"/><use href="#dV" x="1989"/><use href="#dl" x="2012"/><use href="#dl" x="2036"/><use href="#dz" x="2065"/><use href="#dl" x="2089"/><use href="#dp" x="2119"/><use href="#dp" x="2142"/><use href="#do" x="2166"/><use href="#do" x="2189"/><use href="#dp" x="2219"/><use href="#dp" x="2242"/><use href="#do" x="2265"/><use href="#do" x="2289"/><use href="#do" x="2318"/><use href="#do" x="2342"/><use href="#dv" x="2371"/><use href="#dv" x="2394"/><use href="#dv" x="2418"/><use href="#do" x="2441"/><use href="#dv" x="2471"/><use href="#dV" x="2494"/><use href="#dp" x="2517"/><use href="#do" x="2541"/><use href="#do" x="2570"/><use href="#do" x="2594"/></g>
<text class="t m" x="2727" y="2585" font-size="32">Relative</text>
<text class="t m" x="2727" y="2617" font-size="32">expression</text>
<rect x="2695" y="2655" width="44" height="218" fill="url(#cbar)"/>
<g class="t" font-size="20" style="fill:#333">
<text x="2753" y="2668">4</text>
<text x="2753" y="2721">2</text>
<text x="2753" y="2773">0</text>
<text x="2750" y="2826">-2</text>
<text x="2750" y="2878">-4</text>
</g>
</g>

<g id="connectors">
<path class="arr" d="M176 567H241V713H273L208 778L143 713H176Z"/>
<path class="arr" d="M595 572H659V719H692L627 784L562 719H595Z"/>
<path class="arr" d="M1014 564H1078V711H1111L1046 776L981 711H1014Z"/>
<path class="arr" d="M177 1023H241V1167H274L209 1232L144 1167H177Z"/>
<path class="arr" d="M589 1023H653V1167H686L621 1232L556 1167H589Z"/>
<path class="arr" d="M1001 1023H1065V1167H1098L1033 1232L968 1167H1001Z"/>
<path class="arr" d="M593 1807H657V1951H690L625 2016L560 1951H593Z"/>
<path class="arr" d="M591 2321H655V2463H688L623 2528L558 2463H591Z"/>
<path class="arr" d="M2092 935H2156V998H2189L2124 1059L2059 998H2092Z"/>
<path class="arr" d="M2108 1620H2172V1684H2205L2140 1746L2075 1684H2108Z"/>
<path class="arr" d="M2112 2038H2176V2100H2209L2144 2162L2079 2100H2112Z"/>
</g>
</svg>
